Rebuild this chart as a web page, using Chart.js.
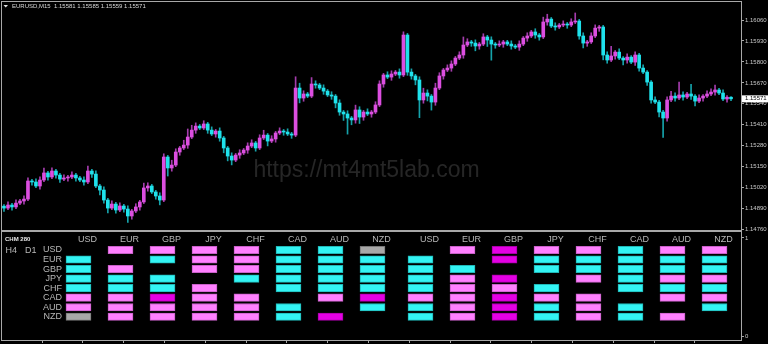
<!DOCTYPE html>
<html>
<head>
<meta charset="utf-8">
<script src="https://cdn.jsdelivr.net/npm/chart.js@4.4.1/dist/chart.umd.min.js"></script>
<style>
  html, body { margin: 0; padding: 0; background: #000; }
  #wrap { position: relative; width: 768px; height: 344px; overflow: hidden; background: #000; }
  #priceChart { position: absolute; left: 0; top: 0; }
  #chmChart { position: absolute; left: 0; top: 231px; }
</style>
</head>
<body>
<div id="wrap">
  <canvas id="priceChart" width="768" height="231"></canvas>
  <canvas id="chmChart" width="768" height="113"></canvas>
</div>
<script>
// EURUSD M15 bars, oldest -> newest
const opens = [
  1.14905, 1.14893, 1.14912, 1.14900, 1.14924, 1.14937, 1.14949, 1.15061, 1.15055, 1.15030,
  1.15067, 1.15111, 1.15086, 1.15123, 1.15098, 1.15073, 1.15080, 1.15086, 1.15098, 1.15080,
  1.15067, 1.15055, 1.15123, 1.15104, 1.15030, 1.15005, 1.14943, 1.14893, 1.14918, 1.14881,
  1.14906, 1.14887, 1.14844, 1.14875, 1.14900, 1.14931, 1.15018, 1.15030, 1.14993, 1.14968,
  1.14943, 1.15210, 1.15142, 1.15160, 1.15241, 1.15266, 1.15284, 1.15334, 1.15377, 1.15402,
  1.15390, 1.15415, 1.15377, 1.15353, 1.15371, 1.15328, 1.15266, 1.15216, 1.15191, 1.15222,
  1.15235, 1.15253, 1.15278, 1.15297, 1.15266, 1.15328, 1.15346, 1.15309, 1.15322, 1.15359,
  1.15371, 1.15365, 1.15353, 1.15346, 1.15638, 1.15576, 1.15601, 1.15588, 1.15663, 1.15657,
  1.15638, 1.15619, 1.15595, 1.15588, 1.15545, 1.15489, 1.15477, 1.15452, 1.15440, 1.15502,
  1.15458, 1.15489, 1.15477, 1.15489, 1.15533, 1.15663, 1.15719, 1.15706, 1.15725, 1.15737,
  1.15719, 1.15967, 1.15737, 1.15713, 1.15688, 1.15564, 1.15607, 1.15588, 1.15551, 1.15638,
  1.15713, 1.15750, 1.15762, 1.15787, 1.15824, 1.15843, 1.15905, 1.15924, 1.15917, 1.15899,
  1.15911, 1.15955, 1.15936, 1.15911, 1.15905, 1.15911, 1.15924, 1.15911, 1.15899, 1.15892,
  1.15911, 1.15948, 1.15961, 1.15986, 1.15967, 1.15955, 1.16048, 1.16066, 1.16023, 1.16017,
  1.16029, 1.16035, 1.16029, 1.16048, 1.16054, 1.15961, 1.15917, 1.15924, 1.15961, 1.16010,
  1.16017, 1.15843, 1.15812, 1.15837, 1.15861, 1.15824, 1.15812, 1.15830, 1.15799, 1.15843,
  1.15762, 1.15737, 1.15675, 1.15564, 1.15551, 1.15489, 1.15452, 1.15564, 1.15588, 1.15576,
  1.15595, 1.15582, 1.15601, 1.15588, 1.15557, 1.15576, 1.15588, 1.15601, 1.15613, 1.15626,
  1.15607, 1.15570, 1.15581
];
const closes = [
  1.14893, 1.14912, 1.14900, 1.14924, 1.14937, 1.14949, 1.15061, 1.15055, 1.15030, 1.15067,
  1.15111, 1.15086, 1.15123, 1.15098, 1.15073, 1.15080, 1.15086, 1.15098, 1.15080, 1.15067,
  1.15055, 1.15123, 1.15104, 1.15030, 1.15005, 1.14943, 1.14893, 1.14918, 1.14881, 1.14906,
  1.14887, 1.14844, 1.14875, 1.14900, 1.14931, 1.15018, 1.15030, 1.14993, 1.14968, 1.14943,
  1.15210, 1.15142, 1.15160, 1.15241, 1.15266, 1.15284, 1.15334, 1.15377, 1.15402, 1.15390,
  1.15415, 1.15377, 1.15353, 1.15371, 1.15328, 1.15266, 1.15216, 1.15191, 1.15222, 1.15235,
  1.15253, 1.15278, 1.15297, 1.15266, 1.15328, 1.15346, 1.15309, 1.15322, 1.15359, 1.15371,
  1.15365, 1.15353, 1.15346, 1.15638, 1.15576, 1.15601, 1.15588, 1.15663, 1.15657, 1.15638,
  1.15619, 1.15595, 1.15588, 1.15545, 1.15489, 1.15477, 1.15452, 1.15440, 1.15502, 1.15458,
  1.15489, 1.15477, 1.15489, 1.15533, 1.15663, 1.15719, 1.15706, 1.15725, 1.15737, 1.15719,
  1.15967, 1.15737, 1.15713, 1.15688, 1.15564, 1.15607, 1.15588, 1.15551, 1.15638, 1.15713,
  1.15750, 1.15762, 1.15787, 1.15824, 1.15843, 1.15905, 1.15924, 1.15917, 1.15899, 1.15911,
  1.15955, 1.15936, 1.15911, 1.15905, 1.15911, 1.15924, 1.15911, 1.15899, 1.15892, 1.15911,
  1.15948, 1.15961, 1.15986, 1.15967, 1.15955, 1.16048, 1.16066, 1.16023, 1.16017, 1.16029,
  1.16035, 1.16029, 1.16048, 1.16054, 1.15961, 1.15917, 1.15924, 1.15961, 1.16010, 1.16017,
  1.15843, 1.15812, 1.15837, 1.15861, 1.15824, 1.15812, 1.15830, 1.15799, 1.15843, 1.15762,
  1.15737, 1.15675, 1.15564, 1.15551, 1.15489, 1.15452, 1.15564, 1.15588, 1.15576, 1.15595,
  1.15582, 1.15601, 1.15588, 1.15557, 1.15576, 1.15588, 1.15601, 1.15613, 1.15626, 1.15607,
  1.15570, 1.15581, 1.15571
];
// shadows in pips above max(open,close) / below min(open,close)
const wickHi = [
  1,2,1,2,1,2,2,1,2,2, 3,1,2,1,1,2,1,2,1,1, 2,3,1,2,1,2,1,2,1,2, 1,2,1,2,1,3,2,1,1,2,
  2,1,3,2,1,3,5,3,2,1, 2,1,2,1,2,1,1,2,1,2, 1,2,2,1,2,3,1,2,1,2, 1,2,1,7,3,2,1,4,2,1,
  2,1,2,1,2,1,2,1,3,2, 1,2,1,2,2,1,2,2,1,2, 2,1,2,1,2,3,2,1,3,2, 1,2,2,1,2,5,2,1,2,1,
  2,1,2,1,2,1,1,2,1,2, 1,2,1,2,1,3,3,1,2,1, 2,1,2,5,1,2,1,2,2,1, 1,2,6,1,2,1,2,1,2,1,
  2,1,1,2,1,1,2,3,2,8, 2,1,6,1,2,1,2,2,3,1, 2,1,0.4
];
const wickLo = [
  2,1,2,1,1,2,1,2,1,2, 1,2,1,2,2,1,2,1,2,1, 2,1,2,1,3,2,3,1,2,1, 2,4,2,1,2,1,2,1,2,3,
  1,5,2,1,2,1,2,1,2,1, 1,2,1,2,2,3,3,3,1,2, 1,2,1,2,1,1,3,1,2,1, 2,1,2,1,3,2,1,1,2,1,
  2,1,2,3,2,4,10,3,2,4, 2,1,2,1,1,2,1,2,1,2, 1,2,2,3,11,2,3,5,2,1, 2,1,2,1,1,2,1,2,3,2,
  1,4,10,2,1,2,1,2,1,2, 1,2,1,2,2,1,2,1,2,1, 1,2,1,1,2,3,2,1,1,2, 3,2,1,2,1,3,2,1,2,2,
  1,2,2,1,3,12,2,1,2,1, 2,1,2,3,1,2,1,1,2,1, 1,2,1.2
];
const priceTicks = [1.16060, 1.15930, 1.15800, 1.15670, 1.15540, 1.15410, 1.15280, 1.15150, 1.15020, 1.14890, 1.14760];
const symbolName = 'EURUSD,M15';
const lastBar = [1.15581, 1.15585, 1.15559, 1.15571]; // O H L C
const watermark = 'https://mt4mt5lab.com';

// currency heat map (row currency vs column currency)
// P = pink, C = cyan, M = magenta, G = grey, - = none
const indicatorName = 'CHM 280';
const timeframes = ['H4', 'D1'];
const currencies = ['USD', 'EUR', 'GBP', 'JPY', 'CHF', 'CAD', 'AUD', 'NZD'];
const h4Grid = [
  '-PPPPCCG',
  'C-CPPCCC',
  'CP-PPCCC',
  'CCC-CCCC',
  'CCCP-CCC',
  'PPMPP-PM',
  'PPPPPC-C',
  'GPPPPCM-'
];
const d1Grid = [
  '-PMPPCPP',
  'C-MCCCCC',
  'CC-CCCCC',
  'CPM-PCPP',
  'CPPC-CCC',
  'PPMPP-PP',
  'CPMCPC-C',
  'CPMCPCP-'
];
const chmRange = [0, 1];

const FONT = '"Liberation Sans", Arial, sans-serif';
const FRAME = '#a8a8a8';
const BULL = '#dc4ee0', BEAR = '#1fe2ec';
const BULL_WICK = '#a43cac', BEAR_WICK = '#15a2aa';
const signalColors = {
  P: { fill: '#ff80ff', edge: '#c860c8' },
  C: { fill: '#33f4f4', edge: '#20b8b8' },
  M: { fill: '#e400e4', edge: '#a800a8' },
  G: { fill: '#a8a8a8', edge: '#787878' }
};

Chart.defaults.font.family = FONT;

// fixed-size axis that does not push the plot area around
function fixedAxis(w, h) {
  return ax => {
    if (w !== null) ax.width = w;
    if (h !== null) ax.height = h;
    ax.paddingTop = 0; ax.paddingBottom = 0;
    ax.paddingLeft = 0; ax.paddingRight = 0;
  };
}

const PIP = 0.0001;
const highs = opens.map((o, i) => Math.max(o, closes[i]) + wickHi[i] * PIP);
const lows = opens.map((o, i) => Math.min(o, closes[i]) - wickLo[i] * PIP);
const isBull = closes.map((c, i) => c >= opens[i]);
const barLabels = closes.map((_, i) => i);
barLabels.push(closes.length, closes.length + 1); // chart shift on the right

// grey outline like the terminal window
const mt4Frame = {
  id: 'mt4Frame',
  beforeDatasetsDraw(chart) {
    const { ctx, chartArea: a } = chart;
    ctx.save();
    ctx.strokeStyle = FRAME;
    ctx.lineWidth = 1;
    ctx.strokeRect(a.left - 0.5, a.top - 0.5, a.right - a.left + 1, a.bottom - a.top + 1);
    ctx.restore();
  }
};

const priceOverlay = {
  id: 'priceOverlay',
  beforeDatasetsDraw(chart) {
    const ctx = chart.ctx;
    ctx.save();
    ctx.font = '23px ' + FONT;
    ctx.fillStyle = '#262626';
    ctx.textAlign = 'center';
    ctx.textBaseline = 'alphabetic';
    ctx.fillText(watermark, 366.5, 177);
    ctx.restore();
  },
  afterDraw(chart) {
    const ctx = chart.ctx;
    ctx.save();
    // title
    ctx.fillStyle = '#e0e0e0';
    ctx.beginPath();
    ctx.moveTo(3.5, 5); ctx.lineTo(8, 5); ctx.lineTo(5.75, 7.5);
    ctx.closePath(); ctx.fill();
    ctx.font = '6px ' + FONT;
    ctx.fillStyle = '#d8d8d8';
    ctx.textBaseline = 'middle';
    ctx.fillText(symbolName + '  ' + lastBar.map(v => v.toFixed(5)).join(' '), 12, 6.5);
    // current price box
    const y = chart.scales.y.getPixelForValue(lastBar[3]);
    ctx.fillStyle = '#ffffff';
    ctx.fillRect(742, y - 3.5, 26, 7);
    ctx.fillStyle = '#000000';
    ctx.fillText(lastBar[3].toFixed(5), 745, y);
    ctx.restore();
  }
};

new Chart(document.getElementById('priceChart'), {
  type: 'bar',
  data: {
    labels: barLabels,
    datasets: [
      {
        data: closes.map((c, i) => [opens[i], c]),
        backgroundColor: isBull.map(b => b ? BULL : BEAR),
        barThickness: 3, minBarLength: 1, grouped: false
      },
      {
        data: highs.map((h, i) => [lows[i], h]),
        backgroundColor: isBull.map(b => b ? BULL_WICK : BEAR_WICK),
        barThickness: 1, grouped: false
      }
    ]
  },
  options: {
    responsive: false,
    animation: false,
    layout: { autoPadding: false, padding: { left: 2, top: 2, bottom: 1, right: 0 } },
    plugins: { legend: { display: false }, tooltip: { enabled: false } },
    scales: {
      x: { type: 'category', display: false, offset: true },
      y: {
        position: 'right',
        min: 1.14757, max: 1.16172,
        afterBuildTicks: ax => { ax.ticks = priceTicks.map(v => ({ value: v })); },
        afterFit: fixedAxis(27, null),
        grid: { drawOnChartArea: false, tickLength: 3, color: FRAME },
        border: { display: false },
        ticks: { padding: 1, color: '#c8c8c8', font: { size: 6 }, callback: v => v.toFixed(5) }
      }
    }
  },
  plugins: [mt4Frame, priceOverlay]
});

// ---- CHM panel ----
const BLOCK_GAP = 6 / 42;
const HEADER_SHIFT = 9 / 42;
const cellSets = {};
Object.keys(signalColors).forEach(k => {
  cellSets[k] = {
    data: [],
    backgroundColor: signalColors[k].fill,
    borderColor: signalColors[k].edge,
    borderWidth: 1,
    borderSkipped: false,
    barThickness: 25,
    grouped: false,
    xAxisID: 'x',
    yAxisID: 'y'
  };
});
[h4Grid, d1Grid].forEach((grid, b) => {
  grid.forEach((row, r) => {
    [...row].forEach((s, c) => {
      if (!cellSets[s]) return;
      cellSets[s].data.push({ x: b * (8 + BLOCK_GAP) + c, y: [r - 0.39, r + 0.39] });
    });
  });
});
const headerTicks = [];
timeframes.forEach((_, b) => currencies.forEach((_, c) => headerTicks.push(b * (8 + BLOCK_GAP) + c + HEADER_SHIFT)));

const chmLabels = {
  id: 'chmLabels',
  afterDraw(chart) {
    const { ctx, chartArea: a } = chart;
    const rowY = chart.scales.y.getPixelForValue(0) + 1;
    ctx.save();
    ctx.textAlign = 'left';
    ctx.textBaseline = 'middle';
    ctx.font = 'bold 6px ' + FONT;
    ctx.fillStyle = '#e8e8e8';
    ctx.fillText(indicatorName, a.left + 3, a.top + 7);
    ctx.font = '9px ' + FONT;
    ctx.fillStyle = '#b8b8b8';
    ctx.fillText(timeframes[0], a.left + 3.5, rowY);
    ctx.fillText(timeframes[1], a.left + 23, rowY);
    ctx.restore();
  }
};

new Chart(document.getElementById('chmChart'), {
  type: 'bar',
  data: { datasets: Object.values(cellSets) },
  options: {
    responsive: false,
    animation: false,
    layout: { autoPadding: false, padding: { left: 2, top: 1, bottom: 1, right: 0 } },
    plugins: { legend: { display: false }, tooltip: { enabled: false } },
    scales: {
      x: {
        type: 'linear', position: 'top', min: -1.8214, max: 15.774, offset: false,
        grid: { display: false, offset: false }, border: { display: false },
        afterBuildTicks: ax => { ax.ticks = headerTicks.map(v => ({ value: v })); },
        afterFit: fixedAxis(null, 0),
        ticks: {
          mirror: true, padding: 2, autoSkip: false, maxRotation: 0,
          color: '#b8b8b8', font: { size: 9 },
          callback: (v, i) => currencies[i % currencies.length]
        }
      },
      xt: {
        type: 'linear', position: 'bottom', min: 2, max: 741, offset: false,
        grid: { drawOnChartArea: false, tickLength: 3, color: FRAME, offset: false },
        border: { display: false },
        ticks: { display: false },
        afterBuildTicks: ax => {
          const t = [];
          for (let k = 0; k < 17; k++) t.push({ value: 42 + 40.8 * k });
          ax.ticks = t;
        },
        afterFit: fixedAxis(null, 3)
      },
      y: {
        type: 'linear', position: 'left', reverse: true, min: -1.889, max: 9.444,
        grid: { display: false }, border: { display: false },
        afterBuildTicks: ax => { ax.ticks = currencies.map((_, i) => ({ value: i })); },
        afterFit: fixedAxis(0, null),
        ticks: {
          mirror: true, crossAlign: 'far', padding: 41,
          color: '#b8b8b8', font: { size: 9 },
          callback: (v, i) => currencies[i]
        }
      },
      y2: {
        type: 'linear', position: 'right', min: -0.0408, max: 1.0612,
        grid: { drawOnChartArea: false, tickLength: 3, color: FRAME },
        border: { display: false },
        afterBuildTicks: ax => { ax.ticks = chmRange.map(v => ({ value: v })); },
        afterFit: fixedAxis(27, null),
        ticks: { padding: 1, color: '#c8c8c8', font: { size: 6 } }
      }
    }
  },
  plugins: [mt4Frame, chmLabels]
});
</script>
</body>
</html>
